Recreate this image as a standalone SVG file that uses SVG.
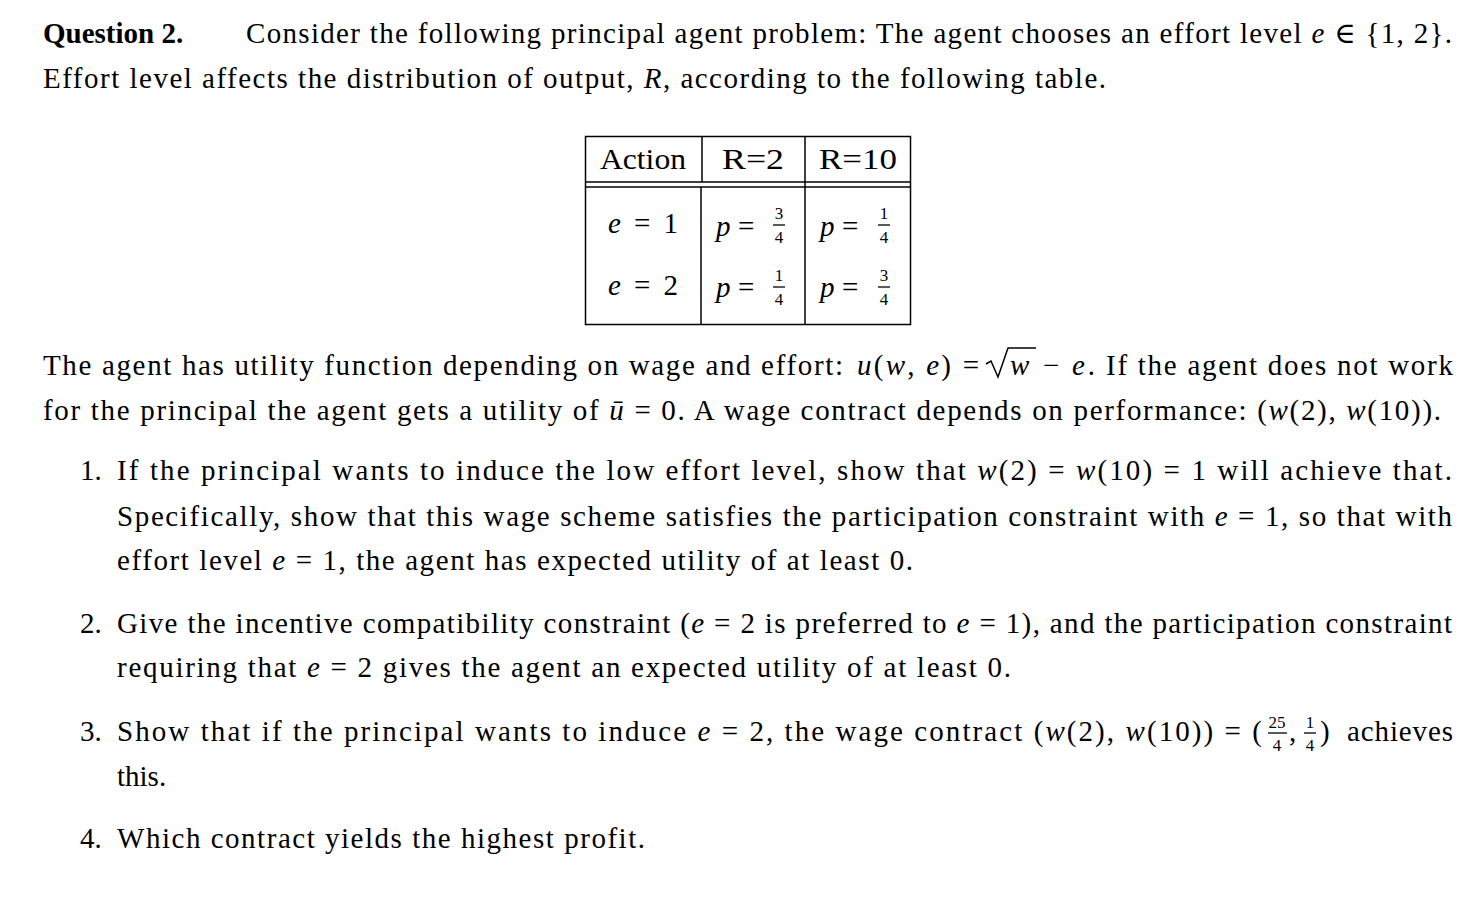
<svg xmlns="http://www.w3.org/2000/svg" width="1476" height="908" viewBox="0 0 1476 908">
<style>
text{font-family:"Liberation Serif","DejaVu Serif",serif;font-size:29px;fill:#000}
.i{font-style:italic}
.b{font-weight:bold}
.s{font-size:17px}
.f{stroke:#000;stroke-width:1.3}
.t{stroke:#000;stroke-width:1.5;fill:none}
</style>
<rect width="1476" height="908" fill="#fff"/>
<text x="43" y="43" class="b">Question 2.</text>
<text x="246" y="43" textLength="1206" lengthAdjust="spacing">Consider the following principal agent problem: The agent chooses an effort level <tspan class="i">e</tspan> ∈ {1, 2}.</text>
<text x="43" y="88" textLength="1063" lengthAdjust="spacing">Effort level affects the distribution of output, <tspan class="i">R</tspan>, according to the following table.</text>
<g id="table">
<rect x="585.5" y="136.5" width="325" height="188" class="t"/>
<line x1="585" y1="182" x2="911" y2="182" class="t"/>
<line x1="585" y1="187" x2="911" y2="187" class="t"/>
<line x1="702" y1="136" x2="702" y2="182" class="t"/>
<line x1="701" y1="187" x2="701" y2="325" class="t"/>
<line x1="805" y1="136" x2="805" y2="325" class="t"/>
<text x="643" y="169" text-anchor="middle" textLength="86" lengthAdjust="spacingAndGlyphs">Action</text>
<text x="753" y="169" text-anchor="middle" textLength="62" lengthAdjust="spacingAndGlyphs">R=2</text>
<text x="858" y="169" text-anchor="middle" textLength="78" lengthAdjust="spacingAndGlyphs">R=10</text>
<text x="643" y="233" text-anchor="middle" textLength="70" lengthAdjust="spacing"><tspan class="i">e</tspan> = 1</text>
<text x="643" y="295" text-anchor="middle" textLength="70" lengthAdjust="spacing"><tspan class="i">e</tspan> = 2</text>
<text x="716" y="236" class="i">p</text><text x="738" y="236">=</text>
<text x="820" y="236" class="i">p</text><text x="842" y="236">=</text>
<text x="716" y="297" class="i">p</text><text x="738" y="297">=</text>
<text x="820" y="297" class="i">p</text><text x="842" y="297">=</text>
<text x="779" y="219" class="s" text-anchor="middle">3</text><line x1="773" y1="225" x2="785" y2="225" class="f"/><text x="779" y="243" class="s" text-anchor="middle">4</text>
<text x="884" y="219" class="s" text-anchor="middle">1</text><line x1="878" y1="225" x2="890" y2="225" class="f"/><text x="884" y="243" class="s" text-anchor="middle">4</text>
<text x="779" y="281" class="s" text-anchor="middle">1</text><line x1="773" y1="287" x2="785" y2="287" class="f"/><text x="779" y="305" class="s" text-anchor="middle">4</text>
<text x="884" y="281" class="s" text-anchor="middle">3</text><line x1="878" y1="287" x2="890" y2="287" class="f"/><text x="884" y="305" class="s" text-anchor="middle">4</text>
</g>
<text x="43" y="375" textLength="800" lengthAdjust="spacing">The agent has utility function depending on wage and effort:</text>
<text x="857" y="375" textLength="122" lengthAdjust="spacing"><tspan class="i">u</tspan>(<tspan class="i">w</tspan>, <tspan class="i">e</tspan>) =</text>
<path d="M986 364 L991 361 L998 377 L1008 348 L1036 348" class="t"/>
<text x="1010" y="375" class="i">w</text>
<text x="1043" y="375" textLength="52" lengthAdjust="spacing">− <tspan class="i">e</tspan>.</text>
<text x="1106" y="375" textLength="347" lengthAdjust="spacing">If the agent does not work</text>
<text x="43" y="420" textLength="1398" lengthAdjust="spacing">for the principal the agent gets a utility of <tspan class="i">ū</tspan> = 0. A wage contract depends on performance: (<tspan class="i">w</tspan>(2), <tspan class="i">w</tspan>(10)).</text>
<text x="80" y="480">1.</text>
<text x="117" y="480" textLength="1335" lengthAdjust="spacing">If the principal wants to induce the low effort level, show that <tspan class="i">w</tspan>(2) = <tspan class="i">w</tspan>(10) = 1 will achieve that.</text>
<text x="117" y="526" textLength="1335" lengthAdjust="spacing">Specifically, show that this wage scheme satisfies the participation constraint with <tspan class="i">e</tspan> = 1, so that with</text>
<text x="117" y="570" textLength="796" lengthAdjust="spacing">effort level <tspan class="i">e</tspan> = 1, the agent has expected utility of at least 0.</text>
<text x="80" y="633">2.</text>
<text x="117" y="633" textLength="1335" lengthAdjust="spacing">Give the incentive compatibility constraint (<tspan class="i">e</tspan> = 2 is preferred to <tspan class="i">e</tspan> = 1), and the participation constraint</text>
<text x="117" y="677" textLength="894" lengthAdjust="spacing">requiring that <tspan class="i">e</tspan> = 2 gives the agent an expected utility of at least 0.</text>
<text x="80" y="741">3.</text>
<text x="117" y="741" textLength="1145" lengthAdjust="spacing">Show that if the principal wants to induce <tspan class="i">e</tspan> = 2, the wage contract (<tspan class="i">w</tspan>(2), <tspan class="i">w</tspan>(10)) = (</text>
<text x="1277" y="728" class="s" text-anchor="middle">25</text><line x1="1268" y1="733" x2="1287" y2="733" class="f"/><text x="1277" y="751" class="s" text-anchor="middle">4</text>
<text x="1289" y="741">,</text>
<text x="1310" y="728" class="s" text-anchor="middle">1</text><line x1="1304" y1="733" x2="1316" y2="733" class="f"/><text x="1310" y="751" class="s" text-anchor="middle">4</text>
<text x="1320" y="741">)</text>
<text x="1347" y="741" textLength="106" lengthAdjust="spacing">achieves</text>
<text x="117" y="786">this.</text>
<text x="80" y="848">4.</text>
<text x="117" y="848" textLength="528" lengthAdjust="spacing">Which contract yields the highest profit.</text>
</svg>
